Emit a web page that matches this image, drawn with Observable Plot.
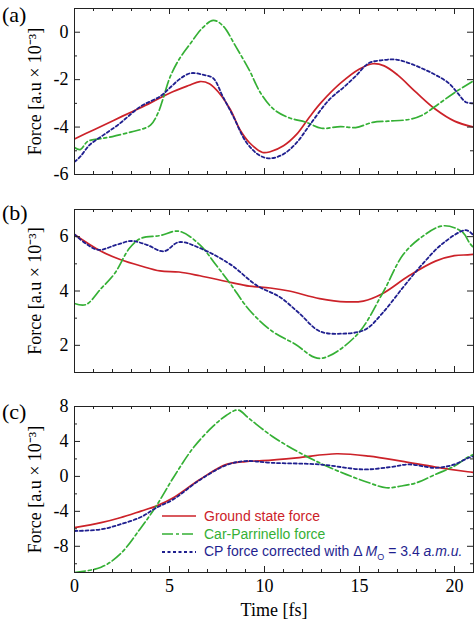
<!DOCTYPE html>
<html><head><meta charset="utf-8">
<script src="https://cdn.jsdelivr.net/npm/d3@7"></script>
<script src="https://cdn.jsdelivr.net/npm/@observablehq/plot@0.6"></script>
<style>
body{margin:0;background:#fff;}
#wrap{position:relative;width:474px;height:620px;overflow:hidden;font-family:"Liberation Serif","Times New Roman",serif;}
.panel{position:absolute;left:0;}
.plab{position:absolute;left:2px;font-size:22px;line-height:22px;font-family:"Liberation Serif",serif;}
#legend{position:absolute;left:162px;top:507px;font-family:"Liberation Sans",Arial,sans-serif;font-size:14px;}
#legend .row{display:flex;align-items:center;height:18px;white-space:nowrap;}
#legend svg{margin-right:8px;}
</style></head><body><div id="wrap"></div>
<script>
// ---- data (time in fs, force in a.u. x 10^-3) ----
const aGroundT = [0,1,2,3,4,5,6,6.6,7.1,7.6,8.2,8.7,9.2,9.9,10.3,11,11.7,12.4,13,14,15,15.7,16.3,17,18,19,20,21];
const aGroundF = [-4.5,-4.12,-3.74,-3.36,-2.98,-2.57,-2.25,-2.08,-2.17,-2.55,-3.26,-4.1,-4.65,-5.07,-5.04,-4.79,-4.3,-3.54,-2.95,-2.15,-1.55,-1.33,-1.42,-1.8,-2.55,-3.25,-3.75,-4.0];
const aCPT = [0,0.3,0.7,1.3,2,3,3.5,4,4.4,4.7,5,5.5,6.1,6.7,7.3,7.8,8.5,9.2,9.8,10.5,11.3,12.2,13,14,14.8,15.7,16.5,17.6,18.3,19,20,21];
const aCPF = [-4.86,-4.95,-4.6,-4.5,-4.4,-4.2,-4.1,-3.92,-3.4,-2.7,-1.95,-1.15,-0.48,0.15,0.5,0.28,-0.62,-1.6,-2.57,-3.26,-3.61,-3.8,-4.05,-3.98,-4.02,-3.8,-3.75,-3.68,-3.5,-3.12,-2.55,-2.05];
const aCorrT = [0,0.3,0.8,1.5,2.3,3.5,4.5,5,5.5,6.1,6.8,7.3,7.8,8.35,9.05,9.75,10.3,11,11.7,12.4,13.4,14.2,14.8,15.5,16.2,16.9,17.6,18.3,19,19.7,20.2,20.6,21];
const aCorrF = [-5.47,-5.25,-4.75,-4.35,-3.9,-3.12,-2.71,-2.36,-2.0,-1.73,-1.8,-1.94,-2.7,-3.54,-4.65,-5.2,-5.32,-5.14,-4.65,-3.89,-2.85,-2.3,-1.85,-1.3,-1.18,-1.15,-1.3,-1.53,-1.8,-2.15,-2.6,-2.95,-3.0];

const bGroundT = [0,1.4,2.4,3.5,4.5,5.5,6.6,8.2,9.2,10.3,11.3,12.9,14.3,15.2,16.2,17.6,19,20,20.7,21];
const bGroundF = [6.08,5.46,5.16,4.92,4.74,4.7,4.56,4.32,4.18,4.11,4.0,3.72,3.6,3.63,3.9,4.56,5.1,5.3,5.33,5.35];
const bCPT = [0,0.6,1.4,2.1,2.9,3.5,4.5,5.5,6.6,7.4,8.2,9.2,10.4,11.6,12.9,14.8,16.2,17.3,18.3,19.4,20.4,20.8,21];
const bCPF = [3.54,3.5,4.09,4.63,5.58,5.94,6.04,6.2,5.7,5.0,4.27,3.3,2.52,2.05,1.52,2.34,3.9,5.34,6.0,6.4,6.18,5.76,5.6];
const bCorrT = [0,1.2,2.2,3.0,3.8,4.7,5.5,6.6,8.2,9.6,10.8,11.8,12.9,14.1,15.3,16.2,17.3,18.3,19.4,20.6,21];
const bCorrF = [6.08,5.52,5.7,5.84,5.7,5.46,5.8,5.58,4.98,4.2,3.78,3.2,2.52,2.43,2.58,3.18,4.14,4.98,5.76,6.24,6.05];

const cGroundT = [0,1.4,2.4,3.5,4.3,5.2,6.6,8.0,9.0,9.9,11.7,13.8,15.5,17.2,19,20.7,21];
const cGroundF = [-5.87,-5.3,-4.73,-3.97,-3.4,-2.44,-0.35,1.37,1.7,1.8,2.13,2.59,2.32,1.75,1.07,0.53,0.45];
const cCPT = [0,1.4,2.4,3.5,4.3,5.2,6.25,7.3,8.0,8.6,9.2,10.4,11.7,12.9,14.3,15.5,16.4,17.2,18,19,20,20.7,21];
const cCPF = [-11.0,-10.4,-8.9,-5.87,-3.4,-0.15,3.27,5.75,7.0,7.6,6.6,4.6,2.89,1.55,0.23,-0.73,-1.3,-1.1,-0.73,0.23,1.18,2.2,2.5];
const cCorrT = [0,1.4,2.4,3.5,4.3,5.2,6.6,8.0,9.0,10.4,12.9,15.2,16.6,17.6,19,20,20.7,21];
const cCorrF = [-6.25,-6.06,-5.49,-4.65,-3.6,-2.63,-0.4,1.3,1.75,1.55,1.37,0.8,1.06,1.37,0.98,1.37,2.1,2.3];

const xMajor = [5,10,15,20];
const xMinor = [1,2,3,4,6,7,8,9,11,12,13,14,16,17,18,19];
const xLabels = [0,5,10,15,20];

// ---- styles ----
const RED = "#cc2229", GREEN = "#35b035", BLUE = "#1f1f8f";
const styles = [
  {stroke: RED, strokeWidth: 1.7, strokeDasharray: null},
  {stroke: GREEN, strokeWidth: 1.7, strokeDasharray: "11,3,3,3"},
  {stroke: BLUE, strokeWidth: 1.8, strokeDasharray: "3,2.5"}
];

const W = 474, ML = 74, MR = 1;
const wrap = document.getElementById("wrap");

function pts(T, V) { return T.map((t, i) => ({t, v: V[i]})); }

function panel({top, height, mt, mb, domain, yMajor, yMinor, yLabels, series, showX}) {
  const fh = height - mt - mb, fw = W - ML - MR;
  const marks = [];
  series.forEach((s, i) => {
    marks.push(Plot.line(pts(s[0], s[1]), {x: "t", y: "v", curve: "catmull-rom", clip: true, ...styles[i]}));
  });
  const tk = {stroke: "#222", strokeWidth: 1};
  marks.push(Plot.ruleX(xMinor, {...tk, insetTop: fh - 3}));
  marks.push(Plot.ruleX(xMajor, {...tk, insetTop: fh - 6}));
  marks.push(Plot.ruleX(xMinor, {...tk, insetBottom: fh - 3}));
  marks.push(Plot.ruleX(xMajor, {...tk, insetBottom: fh - 6}));
  marks.push(Plot.ruleY(yMinor, {...tk, insetRight: fw - 3}));
  marks.push(Plot.ruleY(yMajor, {...tk, insetRight: fw - 6}));
  marks.push(Plot.ruleY(yMinor, {...tk, insetLeft: fw - 3}));
  marks.push(Plot.ruleY(yMajor, {...tk, insetLeft: fw - 6}));
  marks.push(Plot.frame({stroke: "#222", strokeWidth: 1}));
  marks.push(Plot.axisY(yLabels, {anchor: "left", tickSize: 0, tickPadding: 6, fontSize: 18,
    tickFormat: d => String(d), label: "Force [a.u × 10⁻³]", labelAnchor: "center", labelArrow: "none", labelOffset: 46}));
  if (showX) {
    marks.push(Plot.axisX(xLabels, {anchor: "bottom", tickSize: 0, tickPadding: 7, fontSize: 18,
      tickFormat: d => String(d), label: "Time [fs]", labelAnchor: "center", labelArrow: "none", labelOffset: 43}));
  }
  const chart = Plot.plot({
    width: W, height, marginLeft: ML, marginRight: MR, marginTop: mt, marginBottom: mb,
    style: {fontFamily: "'Liberation Serif', 'Times New Roman', serif", fontSize: "19px", background: "transparent", overflow: "visible"},
    x: {domain: [0, 21], axis: showX ? undefined : null},
    y: {domain},
    marks
  });
  chart.classList.add("panel");
  chart.style.top = top + "px";
  wrap.appendChild(chart);
}

panel({top: 0, height: 180, mt: 8, mb: 6, domain: [-6, 1], yMajor: [-4, -2, 0], yMinor: [-5, -3, -1], yLabels: [-6, -4, -2, 0],
  series: [[aGroundT, aGroundF], [aCPT, aCPF], [aCorrT, aCorrF]], showX: false});
panel({top: 198, height: 180, mt: 11, mb: 6, domain: [1, 7], yMajor: [2, 4, 6], yMinor: [3, 5], yLabels: [2, 4, 6],
  series: [[bGroundT, bGroundF], [bCPT, bCPF], [bCorrT, bCorrF]], showX: false});
panel({top: 396, height: 224, mt: 10, mb: 48, domain: [-11, 8], yMajor: [-8, -4, 0, 4], yMinor: [-10, -6, -2, 2, 6], yLabels: [-8, -4, 0, 4, 8],
  series: [[cGroundT, cGroundF], [cCPT, cCPF], [cCorrT, cCorrF]], showX: true});

// panel letters
[["(a)", 4], ["(b)", 202], ["(c)", 401]].forEach(([t, y]) => {
  const d = document.createElement("div");
  d.className = "plab"; d.style.top = y + "px"; d.textContent = t;
  wrap.appendChild(d);
});

// legend
const legendTexts = [
  "Ground state force",
  "Car-Parrinello force",
  "CP force corrected with Δ <i>M</i><sub style='font-size:9px'>O</sub> = 3.4 <i>a.m.u.</i>"
];
const lg = document.createElement("div");
lg.id = "legend";
legendTexts.forEach((txt, i) => {
  const s = styles[i];
  const row = document.createElement("div");
  row.className = "row";
  row.innerHTML = `<svg width="34" height="6"><line x1="0" x2="34" y1="3" y2="3" stroke="${s.stroke}" stroke-width="${s.strokeWidth}" ${s.strokeDasharray ? `stroke-dasharray="${s.strokeDasharray}"` : ""}/></svg><span style="color:${s.stroke}">${txt}</span>`;
  lg.appendChild(row);
});
wrap.appendChild(lg);
</script></body></html>
